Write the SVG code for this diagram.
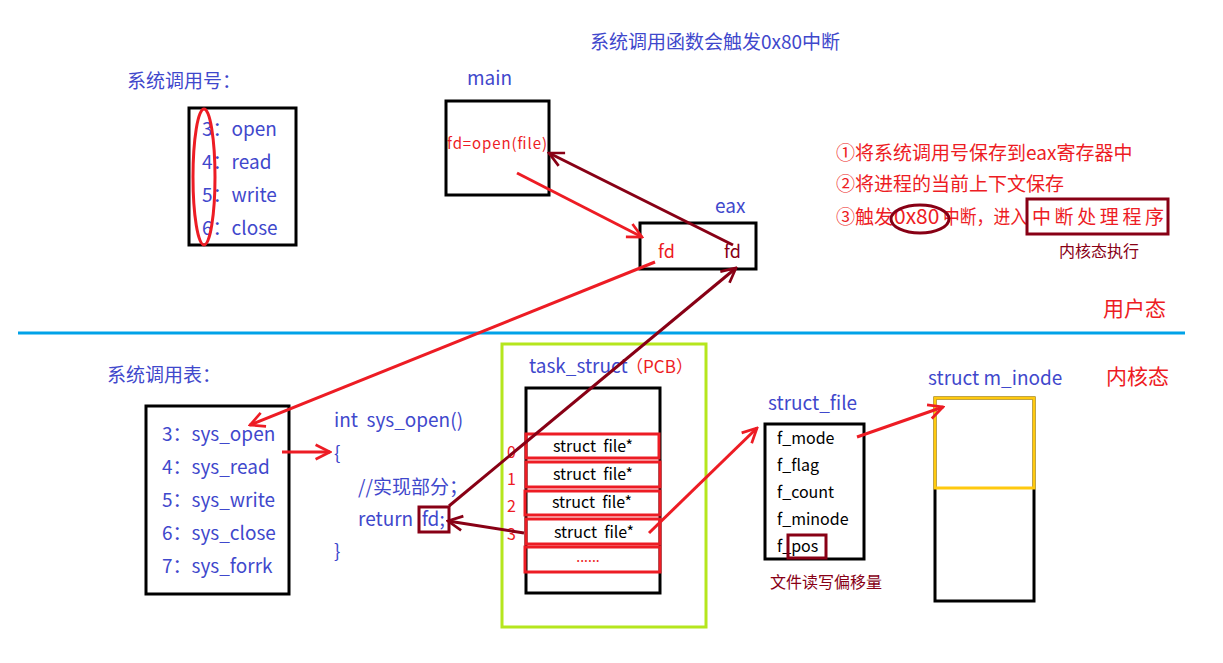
<svg xmlns="http://www.w3.org/2000/svg" width="1223" height="663" viewBox="0 0 1223 663">
<style>
text{font-family:"Noto Sans CJK SC","Noto Sans",sans-serif;}
.b{fill:#3f48cc;font-size:19px;}
.r{fill:#ed1c24;font-size:18px;}
.s{fill:#ed1c24;font-size:19px;}
.k{fill:#000;font-size:16px;}
.dr{fill:#880015;}
.box{fill:none;stroke:#000;stroke-width:3;}
.rbox{fill:none;stroke:#ed1c24;stroke-width:3;}
.dbox{fill:none;stroke:#880015;stroke-width:3;}
.ar{fill:none;stroke:#ed1c24;stroke-width:3;marker-end:url(#mr);}
.ad{fill:none;stroke:#880015;stroke-width:3;marker-end:url(#md);}
</style>
<defs>
<marker id="mr" viewBox="0 0 10 10" refX="9" refY="5" markerWidth="6" markerHeight="6" orient="auto" markerUnits="strokeWidth">
<path d="M1,1 L9,5 L1,9" fill="none" stroke="#ed1c24" stroke-width="1.5"/>
</marker>
<marker id="md" viewBox="0 0 10 10" refX="9" refY="5" markerWidth="6" markerHeight="6" orient="auto" markerUnits="strokeWidth">
<path d="M1,1 L9,5 L1,9" fill="none" stroke="#880015" stroke-width="1.5"/>
</marker>
</defs>
<rect width="1223" height="663" fill="#fff"/>

<text class="b" x="590" y="49">系统调用函数会触发0x80中断</text>

<g id="syscall-numbers">
<text class="b" x="127" y="88">系统调用号：</text>
<rect class="box" x="189" y="108" width="107" height="137"/>
<text class="b" x="202" y="136">3：open</text>
<text class="b" x="202" y="169">4：read</text>
<text class="b" x="202" y="202">5：write</text>
<text class="b" x="202" y="235">6：close</text>
<ellipse cx="204" cy="177" rx="11" ry="68" fill="none" stroke="#ed1c24" stroke-width="3"/>
</g>

<g id="main">
<text class="b" x="467" y="85">main</text>
<rect class="box" x="446" y="101" width="103" height="94"/>
<text class="r" x="447" y="149" style="font-size:15px" textLength="100">fd=open(file)</text>
</g>

<g id="eax">
<text class="b" x="715" y="213">eax</text>
<rect class="box" x="640" y="223" width="116" height="46"/>
<text class="r" x="658" y="258">fd</text>
<text class="dr" x="724" y="258" style="font-size:18px">fd</text>
</g>

<g id="steps">
<text class="s" x="836" y="160">①将系统调用号保存到eax寄存器中</text>
<text class="s" x="836" y="191">②将进程的当前上下文保存</text>
<text class="s" x="836" y="224">③触发</text>
<text class="s" x="894" y="224" style="font-size:21px">0x80</text>
<text class="s" x="943" y="224" textLength="84" lengthAdjust="spacingAndGlyphs">中断，进入</text>
<text class="s" x="1032" y="224" textLength="132">中断处理程序</text>
<ellipse cx="920" cy="219" rx="29" ry="14" fill="none" stroke="#880015" stroke-width="3"/>
<rect class="dbox" x="1027" y="199" width="141" height="35"/>
<text class="dr" x="1059" y="257" style="font-size:16px">内核态执行</text>
</g>

<g id="modes">
<text class="r" x="1103" y="316" style="font-size:21px">用户态</text>
<line x1="18" y1="333" x2="1185" y2="333" stroke="#00a2e8" stroke-width="3"/>
<text class="r" x="1106" y="384" style="font-size:21px">内核态</text>
</g>

<g id="syscall-table">
<text class="b" x="107" y="382">系统调用表：</text>
<rect class="box" x="146" y="406" width="143" height="188"/>
<text class="b" x="162" y="441">3：sys_open</text>
<text class="b" x="162" y="474">4：sys_read</text>
<text class="b" x="162" y="507">5：sys_write</text>
<text class="b" x="162" y="540">6：sys_close</text>
<text class="b" x="162" y="573">7：sys_forrk</text>
</g>

<g id="sys-open">
<text class="b" x="334" y="427" xml:space="preserve">int  sys_open()</text>
<text class="b" x="334" y="460">{</text>
<text class="b" x="358" y="494">//实现部分；</text>
<text class="b" x="358" y="526" xml:space="preserve">return  fd;</text>
<text class="b" x="334" y="558">}</text>
<rect class="dbox" x="419" y="507" width="30" height="25"/>
</g>

<g id="task-struct">
<rect x="502" y="344" width="204" height="283" fill="none" stroke="#b5e61d" stroke-width="3"/>
<text class="b" x="529" y="373">task_struct</text>
<text class="r" x="626" y="373" style="font-size:17px" textLength="67">（PCB）</text>
<rect class="box" x="526" y="388" width="134" height="205"/>
<rect class="rbox" x="526" y="434" width="133" height="24"/>
<rect class="rbox" x="526" y="462" width="134" height="25"/>
<rect class="rbox" x="525" y="491" width="135" height="24"/>
<rect class="rbox" x="526" y="519" width="134" height="25"/>
<rect class="rbox" x="525" y="547" width="135" height="25"/>
<text class="k" x="593" y="452" text-anchor="middle" xml:space="preserve">struct  file*</text>
<text class="k" x="593" y="480" text-anchor="middle" xml:space="preserve">struct  file*</text>
<text class="k" x="592" y="508" text-anchor="middle" xml:space="preserve">struct  file*</text>
<text class="k" x="594" y="538" text-anchor="middle" xml:space="preserve">struct  file*</text>
<text class="r" x="588" y="562" text-anchor="middle" style="font-size:14px">......</text>
<text class="r" x="507" y="458" style="font-size:16px">0</text>
<text class="r" x="507" y="485" style="font-size:16px">1</text>
<text class="r" x="507" y="512" style="font-size:16px">2</text>
<text class="r" x="507" y="540" style="font-size:16px">3</text>
</g>

<g id="struct-file">
<text class="b" x="768" y="410">struct_file</text>
<rect class="box" x="765" y="424" width="99" height="135"/>
<text class="k" x="777" y="444">f_mode</text>
<text class="k" x="777" y="471">f_flag</text>
<text class="k" x="777" y="498">f_count</text>
<text class="k" x="777" y="525">f_minode</text>
<text class="k" x="777" y="552">f_pos</text>
<rect class="dbox" x="788" y="535" width="38" height="23"/>
<text class="dr" x="770" y="588" style="font-size:16px">文件读写偏移量</text>
</g>

<g id="m-inode">
<text class="b" x="928" y="385">struct m_inode</text>
<rect class="box" x="935" y="398" width="99" height="203"/>
<rect x="935" y="398" width="99" height="90" fill="none" stroke="#ffc90e" stroke-width="3"/>
</g>

<g id="connectors">
<line class="ar" x1="517" y1="173" x2="642" y2="237"/>
<line class="ad" x1="733" y1="245" x2="549" y2="153"/>
<line class="ar" x1="655" y1="262" x2="250" y2="425"/>
<line class="ad" x1="449" y1="506" x2="736" y2="268"/>
<line class="ar" x1="282" y1="452" x2="330" y2="452"/>
<line class="ad" x1="524" y1="533" x2="448" y2="521"/>
<line class="ar" x1="649" y1="533" x2="757" y2="428"/>
<line class="ar" x1="857" y1="437" x2="943" y2="407"/>
</g>
</svg>
